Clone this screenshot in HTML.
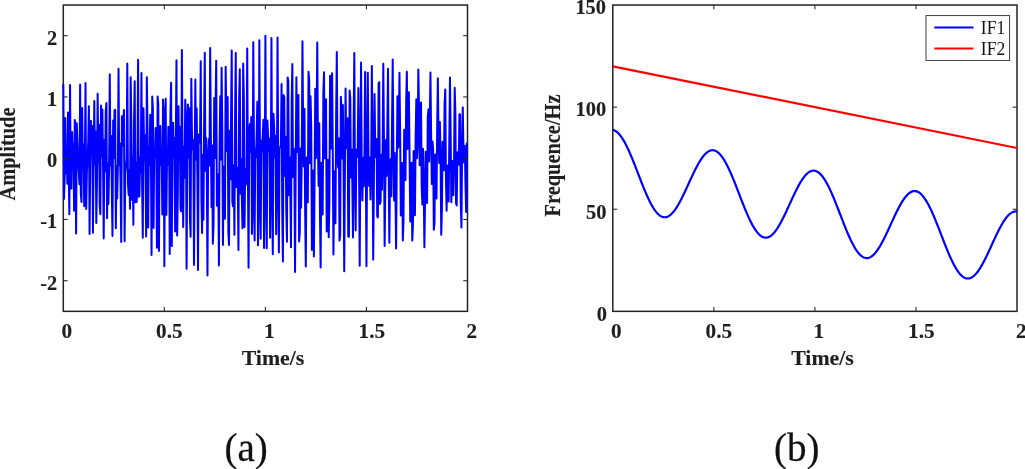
<!DOCTYPE html>
<html><head><meta charset="utf-8"><title>Figure</title>
<style>
html,body{margin:0;padding:0;background:#fff;}
body{width:1025px;height:469px;overflow:hidden;}
svg{display:block;}
text{font-family:"Liberation Serif","Times New Roman",serif;fill:#1f1f1f;}
.b{font-weight:bold;font-size:20.4px;stroke:#1f1f1f;stroke-width:.15px;}
.cap{font-size:39px;fill:#111;stroke:#111;stroke-width:.25px;}
.leg{font-size:18px;fill:#111;}
.ax rect{stroke:#232323;stroke-width:1.5;fill:none;}
.tk line{stroke:#2a2a2a;stroke-width:1.1;}
</style></head><body>
<svg width="1025" height="469" viewBox="0 0 1025 469">
<rect width="1025" height="469" fill="#fff"/>
<g class="ax">
<rect x="63.3" y="5.05" width="404.20" height="306.30"/>
<rect x="612.8" y="5.05" width="404.20" height="306.30"/>
</g>
<path d="M63.30,83.89 L63.97,198.98 L64.65,178.10 L65.32,117.92 L65.99,173.24 L66.67,157.77 L67.34,183.77 L68.02,112.47 L68.69,167.78 L69.36,214.18 L70.04,84.92 L70.71,180.17 L71.38,188.62 L72.06,131.94 L72.73,157.84 L73.41,143.91 L74.08,210.85 L74.75,120.04 L75.43,123.64 L76.10,233.49 L76.77,123.35 L77.45,142.05 L78.12,165.23 L78.79,171.71 L79.47,184.30 L80.14,84.59 L80.82,193.89 L81.49,201.97 L82.16,108.03 L82.84,163.10 L83.51,144.06 L84.18,206.13 L84.86,158.32 L85.53,82.94 L86.20,208.88 L86.88,172.05 L87.55,158.96 L88.23,141.75 L88.90,106.21 L89.57,234.02 L90.25,165.05 L90.92,120.86 L91.59,154.40 L92.27,125.89 L92.94,232.66 L93.61,164.30 L94.29,101.10 L94.96,164.55 L95.64,131.42 L96.31,222.91 L96.98,182.17 L97.66,93.75 L98.33,161.74 L99.00,124.77 L99.68,205.13 L100.35,214.27 L101.03,105.55 L101.70,156.01 L102.37,109.54 L103.05,164.79 L103.72,238.38 L104.39,139.97 L105.07,171.22 L105.74,111.12 L106.41,103.11 L107.09,218.34 L107.76,163.45 L108.44,203.99 L109.11,165.61 L109.78,74.36 L110.46,165.28 L111.13,135.63 L111.80,189.79 L112.48,236.06 L113.15,120.49 L113.82,158.20 L114.50,110.20 L115.17,109.69 L115.85,228.22 L116.52,165.92 L117.19,198.53 L117.87,166.62 L118.54,68.75 L119.21,164.70 L119.89,143.25 L120.56,184.36 L121.24,242.00 L121.91,116.24 L122.58,145.80 L123.26,122.34 L123.93,109.92 L124.60,241.22 L125.28,173.77 L125.95,166.24 L126.62,158.61 L127.30,63.49 L127.97,183.74 L128.65,194.94 L129.32,169.89 L129.99,208.72 L130.67,77.18 L131.34,124.25 L132.01,199.91 L132.69,157.86 L133.36,224.70 L134.03,121.70 L134.71,81.25 L135.38,202.29 L136.06,162.33 L136.73,201.95 L137.40,161.97 L138.08,59.82 L138.75,196.84 L139.42,196.16 L140.10,157.42 L140.77,172.77 L141.45,72.98 L142.12,184.80 L142.79,237.70 L143.47,108.34 L144.14,149.14 L144.81,135.09 L145.49,173.52 L146.16,236.42 L146.83,77.28 L147.51,127.68 L148.18,227.51 L148.86,146.47 L149.53,165.07 L150.20,114.84 L150.88,148.85 L151.55,254.88 L152.22,96.55 L152.90,108.42 L153.57,227.87 L154.25,150.06 L154.92,157.32 L155.59,127.94 L156.27,146.55 L156.94,247.73 L157.61,96.45 L158.29,104.67 L158.96,250.90 L159.63,138.51 L160.31,126.09 L160.98,164.63 L161.66,156.42 L162.33,214.57 L163.00,99.55 L163.68,117.68 L164.35,266.32 L165.02,117.68 L165.70,98.81 L166.37,214.87 L167.04,157.02 L167.72,164.85 L168.39,126.83 L169.07,133.29 L169.74,254.12 L170.41,113.91 L171.09,82.83 L171.76,246.12 L172.43,160.28 L173.11,122.75 L173.78,157.49 L174.45,137.92 L175.13,231.55 L175.80,142.87 L176.48,60.24 L177.15,235.39 L177.82,195.13 L178.50,106.15 L179.17,159.87 L179.84,126.76 L180.52,209.35 L181.19,211.38 L181.87,49.95 L182.54,156.69 L183.21,227.07 L183.89,146.43 L184.56,177.77 L185.23,99.67 L185.91,115.56 L186.58,268.74 L187.25,160.08 L187.93,104.58 L188.60,157.85 L189.28,108.30 L189.95,219.41 L190.62,236.76 L191.30,78.63 L191.97,133.56 L192.64,149.29 L193.32,140.14 L193.99,264.88 L194.67,166.43 L195.34,79.41 L196.01,159.62 L196.69,108.57 L197.36,177.88 L198.03,270.09 L198.71,134.54 L199.38,135.71 L200.05,142.48 L200.73,61.30 L201.40,196.87 L202.08,233.08 L202.75,155.02 L203.42,219.72 L204.10,126.59 L204.77,52.64 L205.44,170.74 L206.12,137.88 L206.79,169.65 L207.46,275.47 L208.14,156.91 L208.81,138.99 L209.49,165.40 L210.16,48.01 L210.83,129.49 L211.51,207.19 L212.18,145.47 L212.85,243.81 L213.53,224.90 L214.20,97.97 L214.88,158.20 L215.55,108.14 L216.22,60.70 L216.90,205.83 L217.57,186.46 L218.24,174.31 L218.92,265.59 L219.59,144.36 L220.26,96.31 L220.94,159.44 L221.61,67.84 L222.29,129.44 L222.96,244.99 L223.63,166.65 L224.31,210.12 L224.98,218.66 L225.65,66.72 L226.33,114.58 L227.00,151.01 L227.67,96.94 L228.35,231.95 L229.02,245.02 L229.70,130.83 L230.37,179.40 L231.04,116.10 L231.72,50.38 L232.39,202.23 L233.06,206.28 L233.74,165.44 L234.41,234.72 L235.08,113.62 L235.76,53.01 L236.43,187.00 L237.11,167.41 L237.78,182.14 L238.45,250.09 L239.13,98.03 L239.80,69.18 L240.47,193.38 L241.15,159.07 L241.82,197.44 L242.50,228.37 L243.17,63.60 L243.84,95.71 L244.52,226.96 L245.19,168.99 L245.86,184.62 L246.54,171.86 L247.21,48.44 L247.88,166.03 L248.56,267.77 L249.23,131.60 L249.91,124.09 L250.58,151.92 L251.25,117.09 L251.93,234.04 L252.60,211.90 L253.27,42.16 L253.95,142.98 L254.62,240.47 L255.29,148.74 L255.97,157.06 L256.64,135.32 L257.32,101.66 L257.99,245.22 L258.66,206.88 L259.34,40.30 L260.01,155.66 L260.68,238.85 L261.36,140.83 L262.03,151.27 L262.71,136.00 L263.38,119.85 L264.05,247.95 L264.73,181.03 L265.40,35.68 L266.07,180.87 L266.75,248.16 L267.42,120.56 L268.09,135.50 L268.77,151.43 L269.44,138.63 L270.12,237.69 L270.79,165.25 L271.46,38.07 L272.14,191.06 L272.81,254.18 L273.48,113.77 L274.16,127.83 L274.83,157.23 L275.50,135.78 L276.18,234.24 L276.85,186.80 L277.53,37.56 L278.20,155.08 L278.87,252.43 L279.55,147.82 L280.22,147.81 L280.89,144.74 L281.57,84.06 L282.24,212.06 L282.92,261.43 L283.59,94.89 L284.26,97.45 L284.94,175.72 L285.61,137.11 L286.28,210.16 L286.96,241.73 L287.63,77.53 L288.30,80.90 L288.98,195.19 L289.65,157.31 L290.33,193.29 L291.00,247.33 L291.67,99.98 L292.35,63.97 L293.02,177.00 L293.69,148.43 L294.37,169.54 L295.04,271.94 L295.71,166.86 L296.39,77.19 L297.06,151.96 L297.74,111.84 L298.41,95.09 L299.08,241.40 L299.76,232.63 L300.43,148.41 L301.10,207.80 L301.78,155.59 L302.45,41.25 L303.13,126.79 L303.80,166.49 L304.47,108.68 L305.15,212.78 L305.82,266.43 L306.49,157.60 L307.17,178.68 L307.84,202.22 L308.51,71.74 L309.19,79.68 L309.86,163.30 L310.54,96.29 L311.21,125.16 L311.88,250.11 L312.56,198.35 L313.23,170.42 L313.90,256.44 L314.58,179.83 L315.25,88.76 L315.93,158.20 L316.60,121.85 L317.27,42.51 L317.95,145.87 L318.62,185.98 L319.29,123.25 L319.97,213.31 L320.64,267.55 L321.31,162.84 L321.99,176.08 L322.66,214.57 L323.34,92.27 L324.01,72.31 L324.68,158.33 L325.36,102.91 L326.03,99.23 L326.70,231.39 L327.38,216.78 L328.05,159.77 L328.72,237.14 L329.40,200.63 L330.07,75.81 L330.75,119.88 L331.42,148.56 L332.09,73.32 L332.77,150.50 L333.44,254.60 L334.11,183.62 L334.79,171.23 L335.46,223.30 L336.14,115.79 L336.81,51.89 L337.48,157.19 L338.16,167.56 L338.83,138.33 L339.50,240.58 L340.18,235.22 L340.85,96.84 L341.52,108.35 L342.20,158.57 L342.87,105.12 L343.55,165.94 L344.22,271.22 L344.89,176.04 L345.57,88.49 L346.24,148.19 L346.91,135.79 L347.59,118.31 L348.26,236.56 L348.93,236.79 L349.61,90.56 L350.28,98.21 L350.96,177.40 L351.63,149.61 L352.30,181.48 L352.98,237.40 L353.65,120.66 L354.32,52.93 L355.00,185.63 L355.67,230.58 L356.34,149.64 L357.02,157.10 L357.69,152.09 L358.37,87.96 L359.04,170.00 L359.71,265.72 L360.39,148.08 L361.06,62.52 L361.73,163.30 L362.41,200.53 L363.08,157.83 L363.76,186.40 L364.43,156.30 L365.10,72.05 L365.78,159.37 L366.45,266.32 L367.12,159.51 L367.80,72.63 L368.47,155.57 L369.14,185.99 L369.82,157.59 L370.49,199.51 L371.17,168.04 L371.84,66.09 L372.51,136.64 L373.19,259.62 L373.86,184.75 L374.53,94.01 L375.21,144.23 L375.88,157.24 L376.56,138.91 L377.23,216.48 L377.90,217.50 L378.58,83.29 L379.25,82.18 L379.92,204.08 L380.60,201.27 L381.27,154.80 L381.94,189.71 L382.62,149.83 L383.29,63.68 L383.97,140.72 L384.64,246.00 L385.31,188.94 L385.99,140.07 L386.66,175.90 L387.33,125.79 L388.01,68.84 L388.68,168.20 L389.35,242.78 L390.03,175.12 L390.70,158.97 L391.38,196.22 L392.05,119.70 L392.72,59.46 L393.40,150.05 L394.07,200.43 L394.74,152.93 L395.42,190.87 L396.09,248.55 L396.76,165.29 L397.44,96.25 L398.11,147.68 L398.79,139.37 L399.46,72.80 L400.13,131.04 L400.81,215.45 L401.48,175.45 L402.15,163.00 L402.83,240.44 L403.50,220.17 L404.18,129.86 L404.85,150.07 L405.52,179.98 L406.20,98.77 L406.87,71.78 L407.54,148.89 L408.22,144.95 L408.89,92.33 L409.56,155.24 L410.24,221.42 L410.91,171.12 L411.59,162.66 L412.26,240.60 L412.93,225.70 L413.61,150.94 L414.28,181.07 L414.95,215.28 L415.63,136.79 L416.30,99.29 L416.98,158.20 L417.65,141.77 L418.32,69.56 L419.00,106.01 L419.67,165.25 L420.34,118.87 L421.02,102.48 L421.69,186.32 L422.36,204.38 L423.04,148.79 L423.71,183.08 L424.39,247.26 L425.06,199.34 L425.73,151.71 L426.41,201.90 L427.08,202.99 L427.75,117.16 L428.43,109.27 L429.10,161.55 L429.77,123.27 L430.45,72.51 L431.12,133.45 L431.80,184.03 L432.47,141.40 L433.14,149.21 L433.82,229.70 L434.49,222.97 L435.16,154.60 L435.84,170.75 L436.51,198.60 L437.19,126.78 L437.86,78.26 L438.53,136.68 L439.21,162.94 L439.88,121.98 L440.55,155.03 L441.23,234.67 L441.90,210.10 L442.57,141.68 L443.25,157.44 L443.92,170.13 L444.60,103.00 L445.27,89.46 L445.94,176.74 L446.62,210.66 L447.29,165.43 L447.96,172.17 L448.64,201.59 L449.31,139.89 L449.98,77.54 L450.66,134.43 L451.33,202.20 L452.01,177.67 L452.68,161.02 L453.35,195.19 L454.03,165.30 L454.70,87.86 L455.37,112.30 L456.05,203.41 L456.72,205.52 L457.39,152.17 L458.07,157.41 L458.74,164.86 L459.42,114.20 L460.09,114.50 L460.76,202.81 L461.44,227.52 L462.11,145.85 L462.78,107.39 L463.46,150.79 L464.13,162.73 L464.81,145.74 L465.48,183.82 L466.15,211.95 L466.83,142.73" fill="none" stroke="#0000ff" stroke-width="2" stroke-linejoin="round"/>
<path d="M612.80,129.92 L613.47,130.09 L614.15,130.33 L614.82,130.63 L615.49,131.00 L616.17,131.44 L616.84,131.94 L617.52,132.51 L618.19,133.15 L618.86,133.85 L619.54,134.61 L620.21,135.43 L620.88,136.31 L621.56,137.26 L622.23,138.26 L622.90,139.31 L623.58,140.42 L624.25,141.59 L624.93,142.80 L625.60,144.07 L626.27,145.38 L626.95,146.73 L627.62,148.13 L628.29,149.57 L628.97,151.05 L629.64,152.57 L630.32,154.12 L630.99,155.70 L631.66,157.31 L632.34,158.94 L633.01,160.60 L633.68,162.28 L634.36,163.98 L635.03,165.69 L635.70,167.42 L636.38,169.15 L637.05,170.89 L637.73,172.64 L638.40,174.39 L639.07,176.14 L639.75,177.88 L640.42,179.61 L641.09,181.34 L641.77,183.05 L642.44,184.75 L643.12,186.43 L643.79,188.09 L644.46,189.72 L645.14,191.33 L645.81,192.91 L646.48,194.46 L647.16,195.98 L647.83,197.46 L648.50,198.90 L649.18,200.30 L649.85,201.65 L650.53,202.96 L651.20,204.23 L651.87,205.44 L652.55,206.61 L653.22,207.72 L653.89,208.77 L654.57,209.77 L655.24,210.72 L655.91,211.60 L656.59,212.42 L657.26,213.18 L657.94,213.88 L658.61,214.52 L659.28,215.09 L659.96,215.59 L660.63,216.03 L661.30,216.40 L661.98,216.70 L662.65,216.94 L663.32,217.11 L664.00,217.21 L664.67,217.25 L665.35,217.22 L666.02,217.12 L666.69,216.95 L667.37,216.72 L668.04,216.42 L668.71,216.06 L669.39,215.63 L670.06,215.15 L670.74,214.59 L671.41,213.98 L672.08,213.31 L672.76,212.59 L673.43,211.80 L674.10,210.96 L674.78,210.07 L675.45,209.13 L676.12,208.14 L676.80,207.10 L677.47,206.01 L678.15,204.89 L678.82,203.72 L679.49,202.51 L680.17,201.27 L680.84,199.99 L681.51,198.68 L682.19,197.35 L682.86,195.98 L683.53,194.60 L684.21,193.19 L684.88,191.77 L685.56,190.33 L686.23,188.87 L686.90,187.41 L687.58,185.94 L688.25,184.46 L688.92,182.99 L689.60,181.51 L690.27,180.04 L690.95,178.58 L691.62,177.12 L692.29,175.68 L692.97,174.26 L693.64,172.85 L694.31,171.47 L694.99,170.10 L695.66,168.77 L696.33,167.46 L697.01,166.18 L697.68,164.94 L698.36,163.73 L699.03,162.56 L699.70,161.44 L700.38,160.35 L701.05,159.31 L701.72,158.32 L702.40,157.38 L703.07,156.49 L703.75,155.65 L704.42,154.86 L705.09,154.14 L705.77,153.47 L706.44,152.86 L707.11,152.30 L707.79,151.82 L708.46,151.39 L709.13,151.03 L709.81,150.73 L710.48,150.50 L711.16,150.33 L711.83,150.23 L712.50,150.20 L713.18,150.24 L713.85,150.34 L714.52,150.51 L715.20,150.75 L715.87,151.05 L716.54,151.42 L717.22,151.86 L717.89,152.36 L718.57,152.93 L719.24,153.57 L719.91,154.27 L720.59,155.03 L721.26,155.85 L721.93,156.73 L722.61,157.68 L723.28,158.68 L723.95,159.73 L724.63,160.84 L725.30,162.01 L725.98,163.22 L726.65,164.49 L727.32,165.80 L728.00,167.15 L728.67,168.55 L729.34,169.99 L730.02,171.47 L730.69,172.99 L731.37,174.54 L732.04,176.12 L732.71,177.73 L733.39,179.36 L734.06,181.02 L734.73,182.70 L735.41,184.40 L736.08,186.11 L736.75,187.84 L737.43,189.57 L738.10,191.31 L738.78,193.06 L739.45,194.81 L740.12,196.56 L740.80,198.30 L741.47,200.03 L742.14,201.76 L742.82,203.47 L743.49,205.17 L744.16,206.85 L744.84,208.51 L745.51,210.14 L746.19,211.75 L746.86,213.33 L747.53,214.88 L748.21,216.40 L748.88,217.88 L749.55,219.32 L750.23,220.72 L750.90,222.07 L751.58,223.38 L752.25,224.65 L752.92,225.86 L753.60,227.03 L754.27,228.14 L754.94,229.19 L755.62,230.19 L756.29,231.14 L756.96,232.02 L757.64,232.84 L758.31,233.60 L758.99,234.30 L759.66,234.94 L760.33,235.51 L761.01,236.01 L761.68,236.45 L762.35,236.82 L763.03,237.12 L763.70,237.36 L764.38,237.53 L765.05,237.63 L765.72,237.67 L766.40,237.64 L767.07,237.54 L767.74,237.37 L768.42,237.14 L769.09,236.84 L769.76,236.48 L770.44,236.05 L771.11,235.57 L771.79,235.01 L772.46,234.40 L773.13,233.73 L773.81,233.01 L774.48,232.22 L775.15,231.38 L775.83,230.49 L776.50,229.55 L777.17,228.56 L777.85,227.52 L778.52,226.43 L779.20,225.31 L779.87,224.14 L780.54,222.93 L781.22,221.69 L781.89,220.41 L782.56,219.10 L783.24,217.77 L783.91,216.40 L784.59,215.02 L785.26,213.61 L785.93,212.19 L786.61,210.75 L787.28,209.29 L787.95,207.83 L788.63,206.36 L789.30,204.88 L789.97,203.41 L790.65,201.93 L791.32,200.46 L792.00,199.00 L792.67,197.54 L793.34,196.10 L794.02,194.68 L794.69,193.27 L795.36,191.89 L796.04,190.52 L796.71,189.19 L797.38,187.88 L798.06,186.60 L798.73,185.36 L799.41,184.15 L800.08,182.98 L800.75,181.86 L801.43,180.77 L802.10,179.73 L802.77,178.74 L803.45,177.80 L804.12,176.91 L804.79,176.07 L805.47,175.28 L806.14,174.56 L806.82,173.89 L807.49,173.28 L808.16,172.72 L808.84,172.24 L809.51,171.81 L810.18,171.45 L810.86,171.15 L811.53,170.92 L812.21,170.75 L812.88,170.65 L813.55,170.62 L814.23,170.66 L814.90,170.76 L815.57,170.93 L816.25,171.17 L816.92,171.47 L817.59,171.84 L818.27,172.28 L818.94,172.78 L819.62,173.35 L820.29,173.99 L820.96,174.69 L821.64,175.45 L822.31,176.27 L822.98,177.15 L823.66,178.10 L824.33,179.10 L825.00,180.15 L825.68,181.26 L826.35,182.43 L827.03,183.64 L827.70,184.91 L828.37,186.22 L829.05,187.57 L829.72,188.97 L830.39,190.41 L831.07,191.89 L831.74,193.41 L832.42,194.96 L833.09,196.54 L833.76,198.15 L834.44,199.78 L835.11,201.44 L835.78,203.12 L836.46,204.82 L837.13,206.53 L837.80,208.26 L838.48,209.99 L839.15,211.73 L839.83,213.48 L840.50,215.23 L841.17,216.98 L841.85,218.72 L842.52,220.45 L843.19,222.18 L843.87,223.89 L844.54,225.59 L845.21,227.27 L845.89,228.93 L846.56,230.56 L847.24,232.17 L847.91,233.75 L848.58,235.30 L849.26,236.82 L849.93,238.30 L850.60,239.74 L851.28,241.14 L851.95,242.49 L852.63,243.80 L853.30,245.07 L853.97,246.28 L854.65,247.45 L855.32,248.56 L855.99,249.61 L856.67,250.61 L857.34,251.56 L858.01,252.44 L858.69,253.26 L859.36,254.02 L860.04,254.72 L860.71,255.36 L861.38,255.93 L862.06,256.43 L862.73,256.87 L863.40,257.24 L864.08,257.54 L864.75,257.78 L865.42,257.95 L866.10,258.05 L866.77,258.09 L867.45,258.06 L868.12,257.96 L868.79,257.79 L869.47,257.56 L870.14,257.26 L870.81,256.90 L871.49,256.47 L872.16,255.99 L872.84,255.43 L873.51,254.82 L874.18,254.15 L874.86,253.43 L875.53,252.64 L876.20,251.80 L876.88,250.91 L877.55,249.97 L878.22,248.98 L878.90,247.94 L879.57,246.85 L880.25,245.73 L880.92,244.56 L881.59,243.35 L882.27,242.11 L882.94,240.83 L883.61,239.52 L884.29,238.19 L884.96,236.82 L885.63,235.44 L886.31,234.03 L886.98,232.61 L887.66,231.17 L888.33,229.71 L889.00,228.25 L889.68,226.78 L890.35,225.30 L891.02,223.83 L891.70,222.35 L892.37,220.88 L893.05,219.42 L893.72,217.96 L894.39,216.52 L895.07,215.10 L895.74,213.69 L896.41,212.31 L897.09,210.94 L897.76,209.61 L898.43,208.30 L899.11,207.02 L899.78,205.78 L900.46,204.57 L901.13,203.40 L901.80,202.28 L902.48,201.19 L903.15,200.15 L903.82,199.16 L904.50,198.22 L905.17,197.33 L905.85,196.49 L906.52,195.70 L907.19,194.98 L907.87,194.31 L908.54,193.70 L909.21,193.14 L909.89,192.66 L910.56,192.23 L911.23,191.87 L911.91,191.57 L912.58,191.34 L913.26,191.17 L913.93,191.07 L914.60,191.04 L915.28,191.08 L915.95,191.18 L916.62,191.35 L917.30,191.59 L917.97,191.89 L918.64,192.26 L919.32,192.70 L919.99,193.20 L920.67,193.77 L921.34,194.41 L922.01,195.11 L922.69,195.87 L923.36,196.69 L924.03,197.57 L924.71,198.52 L925.38,199.52 L926.06,200.57 L926.73,201.68 L927.40,202.85 L928.08,204.06 L928.75,205.33 L929.42,206.64 L930.10,207.99 L930.77,209.39 L931.44,210.83 L932.12,212.31 L932.79,213.83 L933.47,215.38 L934.14,216.96 L934.81,218.57 L935.49,220.20 L936.16,221.86 L936.83,223.54 L937.51,225.24 L938.18,226.95 L938.85,228.68 L939.53,230.41 L940.20,232.15 L940.88,233.90 L941.55,235.65 L942.22,237.40 L942.90,239.14 L943.57,240.87 L944.24,242.60 L944.92,244.31 L945.59,246.01 L946.26,247.69 L946.94,249.35 L947.61,250.98 L948.29,252.59 L948.96,254.17 L949.63,255.72 L950.31,257.24 L950.98,258.72 L951.65,260.16 L952.33,261.56 L953.00,262.91 L953.68,264.22 L954.35,265.49 L955.02,266.70 L955.70,267.87 L956.37,268.98 L957.04,270.03 L957.72,271.03 L958.39,271.98 L959.06,272.86 L959.74,273.68 L960.41,274.44 L961.09,275.14 L961.76,275.78 L962.43,276.35 L963.11,276.85 L963.78,277.29 L964.45,277.66 L965.13,277.96 L965.80,278.20 L966.48,278.37 L967.15,278.47 L967.82,278.51 L968.50,278.48 L969.17,278.38 L969.84,278.21 L970.52,277.98 L971.19,277.68 L971.86,277.32 L972.54,276.89 L973.21,276.41 L973.89,275.85 L974.56,275.24 L975.23,274.57 L975.91,273.85 L976.58,273.06 L977.25,272.22 L977.93,271.33 L978.60,270.39 L979.27,269.40 L979.95,268.36 L980.62,267.27 L981.30,266.15 L981.97,264.98 L982.64,263.77 L983.32,262.53 L983.99,261.25 L984.66,259.94 L985.34,258.61 L986.01,257.24 L986.68,255.86 L987.36,254.45 L988.03,253.03 L988.71,251.59 L989.38,250.13 L990.05,248.67 L990.73,247.20 L991.40,245.72 L992.07,244.25 L992.75,242.77 L993.42,241.30 L994.10,239.84 L994.77,238.38 L995.44,236.94 L996.12,235.52 L996.79,234.11 L997.46,232.73 L998.14,231.36 L998.81,230.03 L999.48,228.72 L1000.16,227.44 L1000.83,226.20 L1001.51,224.99 L1002.18,223.82 L1002.85,222.70 L1003.53,221.61 L1004.20,220.57 L1004.87,219.58 L1005.55,218.64 L1006.22,217.75 L1006.89,216.91 L1007.57,216.12 L1008.24,215.40 L1008.92,214.73 L1009.59,214.12 L1010.26,213.56 L1010.94,213.08 L1011.61,212.65 L1012.28,212.29 L1012.96,211.99 L1013.63,211.76 L1014.31,211.59 L1014.98,211.49 L1015.65,211.46 L1016.33,211.50 L1017.00,211.60" fill="none" stroke="#0000ff" stroke-width="2.2" stroke-linejoin="round"/>
<path d="M612.80,66.31 L1017.00,147.99" fill="none" stroke="#ff0000" stroke-width="2.2" stroke-linejoin="round"/>
<g class="tk">
<line x1="164.35" y1="311.35" x2="164.35" y2="307.05"/>
<line x1="164.35" y1="5.05" x2="164.35" y2="9.35"/>
<line x1="265.40" y1="311.35" x2="265.40" y2="307.05"/>
<line x1="265.40" y1="5.05" x2="265.40" y2="9.35"/>
<line x1="366.45" y1="311.35" x2="366.45" y2="307.05"/>
<line x1="366.45" y1="5.05" x2="366.45" y2="9.35"/>
<line x1="63.3" y1="280.72" x2="67.6" y2="280.72"/>
<line x1="467.5" y1="280.72" x2="463.2" y2="280.72"/>
<line x1="63.3" y1="219.46" x2="67.6" y2="219.46"/>
<line x1="467.5" y1="219.46" x2="463.2" y2="219.46"/>
<line x1="63.3" y1="158.20" x2="67.6" y2="158.20"/>
<line x1="467.5" y1="158.20" x2="463.2" y2="158.20"/>
<line x1="63.3" y1="96.94" x2="67.6" y2="96.94"/>
<line x1="467.5" y1="96.94" x2="463.2" y2="96.94"/>
<line x1="63.3" y1="35.68" x2="67.6" y2="35.68"/>
<line x1="467.5" y1="35.68" x2="463.2" y2="35.68"/>
<line x1="713.85" y1="311.35" x2="713.85" y2="307.05"/>
<line x1="713.85" y1="5.05" x2="713.85" y2="9.35"/>
<line x1="814.90" y1="311.35" x2="814.90" y2="307.05"/>
<line x1="814.90" y1="5.05" x2="814.90" y2="9.35"/>
<line x1="915.95" y1="311.35" x2="915.95" y2="307.05"/>
<line x1="915.95" y1="5.05" x2="915.95" y2="9.35"/>
<line x1="612.8" y1="209.25" x2="617.0999999999999" y2="209.25"/>
<line x1="1017.0" y1="209.25" x2="1012.7" y2="209.25"/>
<line x1="612.8" y1="107.15" x2="617.0999999999999" y2="107.15"/>
<line x1="1017.0" y1="107.15" x2="1012.7" y2="107.15"/>
</g>
<rect x="926.0" y="15.6" width="83.6" height="44.8" fill="#fff" stroke="#2a2a2a" stroke-width="0.9"/>
<line x1="934.3" y1="27.5" x2="973.5" y2="27.5" stroke="#0000ff" stroke-width="2.1"/>
<line x1="934.3" y1="48.5" x2="973.5" y2="48.5" stroke="#ff0000" stroke-width="2.1"/>
<text transform="translate(66.90,338.00) scale(1.04,1)" text-anchor="middle" class="b">0</text>
<text transform="translate(616.40,338.00) scale(1.04,1)" text-anchor="middle" class="b">0</text>
<text transform="translate(169.30,338.00) scale(1.04,1)" text-anchor="middle" class="b">0.5</text>
<text transform="translate(718.80,338.00) scale(1.04,1)" text-anchor="middle" class="b">0.5</text>
<text transform="translate(269.30,338.00) scale(1.04,1)" text-anchor="middle" class="b">1</text>
<text transform="translate(818.80,338.00) scale(1.04,1)" text-anchor="middle" class="b">1</text>
<text transform="translate(371.80,338.00) scale(1.04,1)" text-anchor="middle" class="b">1.5</text>
<text transform="translate(921.30,338.00) scale(1.04,1)" text-anchor="middle" class="b">1.5</text>
<text transform="translate(471.70,338.00) scale(1.04,1)" text-anchor="middle" class="b">2</text>
<text transform="translate(1021.20,338.00) scale(1.04,1)" text-anchor="middle" class="b">2</text>
<text transform="translate(57.20,289.72) scale(1.0,1)" text-anchor="end" class="b">-2</text>
<text transform="translate(57.20,228.46) scale(1.0,1)" text-anchor="end" class="b">-1</text>
<text transform="translate(57.20,167.20) scale(1.0,1)" text-anchor="end" class="b">0</text>
<text transform="translate(57.20,105.94) scale(1.0,1)" text-anchor="end" class="b">1</text>
<text transform="translate(57.20,44.68) scale(1.0,1)" text-anchor="end" class="b">2</text>
<text transform="translate(607.00,320.85) scale(1.0,1)" text-anchor="end" class="b">0</text>
<text transform="translate(606.40,218.75) scale(1.0,1)" text-anchor="end" class="b">50</text>
<text transform="translate(606.10,115.85) scale(1.0,1)" text-anchor="end" class="b">100</text>
<text transform="translate(606.00,13.65) scale(1.0,1)" text-anchor="end" class="b">150</text>
<text transform="translate(273.00,364.80) scale(1.07,1)" text-anchor="middle" class="b">Time/s</text>
<text transform="translate(822.50,364.80) scale(1.07,1)" text-anchor="middle" class="b">Time/s</text>
<text transform="translate(14.8,154) scale(1.085,1) rotate(-90)" text-anchor="middle" class="b">Amplitude</text>
<text transform="translate(559.8,155.5) scale(1.085,1) rotate(-90)" text-anchor="middle" class="b">Frequence/Hz</text>
<text transform="translate(246.10,461.40) scale(1,1)" text-anchor="middle" class="cap">(a)</text>
<text transform="translate(796.80,461.40) scale(1,1)" text-anchor="middle" class="cap">(b)</text>
<text transform="translate(980.80,33.60) scale(0.975,1)" text-anchor="start" class="leg">IF1</text>
<text transform="translate(980.80,54.90) scale(0.975,1)" text-anchor="start" class="leg">IF2</text>
</svg>
</body></html>
